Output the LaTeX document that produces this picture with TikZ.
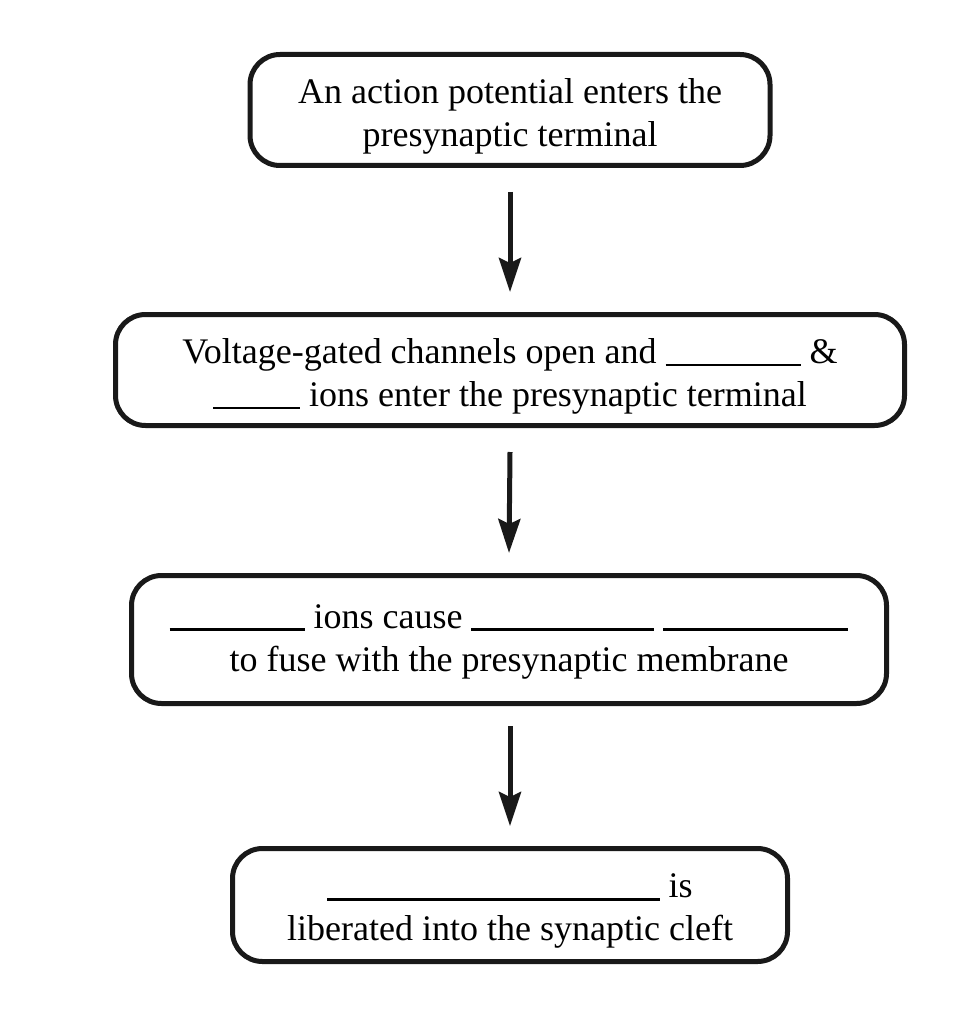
\documentclass[tikz,border=0pt]{standalone}
\usepackage{fontspec}
\setmainfont{Liberation Serif}
\usetikzlibrary{arrows.meta}
\newcommand{\blank}[1]{\rule[-3pt]{#1pt}{2.6pt}}
\begin{document}
\begin{tikzpicture}[x=1pt,y=-1pt,
  stepbox/.style={draw=black!90, line width=5pt, rounded corners=30pt,
    inner sep=0pt},
  steptext/.style={align=center, inner sep=0pt,
    font=\fontsize{36}{43}\selectfont},
  flowarrow/.style={draw=black!90, line width=5pt,
    -{Stealth[width=22pt,length=34pt,inset=5pt]}}]
\useasboundingbox (0,0) rectangle (974,1024);
\node[stepbox, minimum width=520pt, minimum height=111pt,
  label={[steptext, yshift=-6pt]center:An action potential enters the\\presynaptic terminal}] (b1) at (510,110) {};
\node[stepbox, minimum width=789pt, minimum height=111pt,
  label={[steptext, yshift=-6pt]center:Voltage-gated channels open and \blank{135} \&\\\blank{87} ions enter the presynaptic terminal}] (b2) at (510,370) {};
\node[stepbox, minimum width=755pt, minimum height=128pt,
  label={[steptext, yshift=-2pt]center:\blank{135} ions cause \blank{183} \blank{185}\\to fuse with the presynaptic membrane}] (b3) at (509,639.5) {};
\node[stepbox, minimum width=555pt, minimum height=113pt,
  label={[steptext, yshift=-6pt]center:\blank{332} is\\liberated into the synaptic cleft}] (b4) at (510,905) {};
\draw[flowarrow] ([yshift=-24pt]b1.south) -- ([yshift=20pt]b2.north);
\draw[flowarrow] ([yshift=-24pt]b2.south) -- ([yshift=20pt]b3.north);
\draw[flowarrow] ([yshift=-20pt]b3.south -| b4.south) -- ([yshift=20pt]b4.north);
\end{tikzpicture}
\end{document}
